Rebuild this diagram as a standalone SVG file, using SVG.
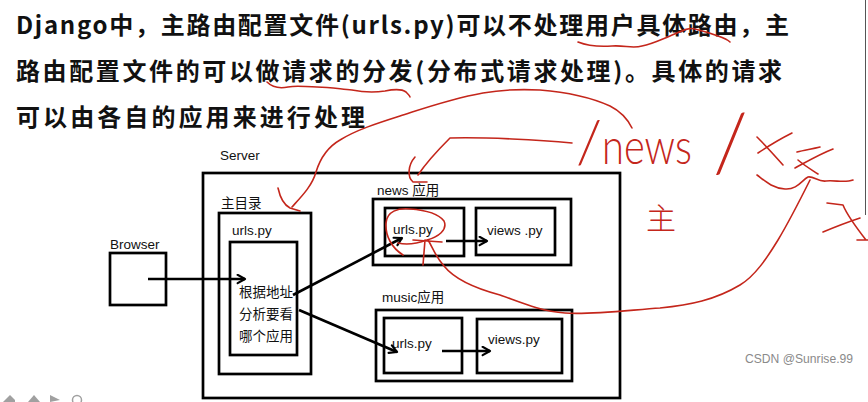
<svg xmlns="http://www.w3.org/2000/svg" width="868" height="402" viewBox="0 0 868 402">
<defs>
<style>
.box{fill:none;stroke:#000;stroke-width:2.7}
.lbl{font-family:"Liberation Sans","Noto Sans CJK SC",sans-serif;font-size:13.5px;fill:#111}
.head{font-family:"Noto Sans CJK SC","Noto Sans",sans-serif;font-size:24px;font-weight:bold;fill:#111}
.conn{fill:none;stroke:#000;stroke-width:2.6;marker-end:url(#arr)}
.red{fill:none;stroke:#c4261b;stroke-width:1.6;stroke-linecap:round;stroke-linejoin:round}
.rtext{font-family:"Lato","Liberation Sans",sans-serif;font-weight:300;fill:#c4261b}
</style>
<marker id="arr" viewBox="0 0 12 12" refX="10" refY="6" markerWidth="11" markerHeight="11" orient="auto" markerUnits="userSpaceOnUse">
<path d="M2,1.5 L10,6 L2,10.5" fill="none" stroke="#000" stroke-width="2.4" stroke-linecap="round" stroke-linejoin="round"/>
</marker>
</defs>
<rect width="868" height="402" fill="#fff"/>

<g id="title">
<text class="head" x="16" y="34" textLength="773" lengthAdjust="spacing">Django中，主路由配置文件(urls.py)可以不处理用户具体路由，主</text>
<text class="head" x="16" y="80" textLength="766" lengthAdjust="spacing">路由配置文件的可以做请求的分发(分布式请求处理)。具体的请求</text>
<text class="head" x="16" y="126" textLength="349" lengthAdjust="spacing">可以由各自的应用来进行处理</text>
</g>

<g id="server">
<text class="lbl" x="220" y="160">Server</text>
<rect class="box" x="203" y="173" width="417" height="225"/>
</g>

<g id="browser">
<text class="lbl" x="110" y="249">Browser</text>
<rect class="box" x="110" y="253" width="56" height="52"/>
</g>

<g id="main-dir">
<text class="lbl" x="221" y="208">主目录</text>
<rect class="box" x="219" y="213" width="92" height="161"/>
</g>

<g id="main-urls">
<text class="lbl" x="232" y="235">urls.py</text>
<rect class="box" x="230" y="242" width="67" height="113"/>
<text class="lbl" x="239" y="297">根据地址</text>
<text class="lbl" x="239" y="319">分析要看</text>
<text class="lbl" x="239" y="341">哪个应用</text>
</g>

<g id="news-app">
<text class="lbl" x="377" y="195">news 应用</text>
<rect class="box" x="373" y="199" width="198" height="66"/>
</g>
<g id="news-urls">
<rect class="box" x="385" y="208" width="79" height="48"/>
<text class="lbl" x="393" y="234">urls.py</text>
</g>
<g id="news-views">
<rect class="box" x="476" y="208" width="79" height="47"/>
<text class="lbl" x="487" y="235">views .py</text>
</g>

<g id="music-app">
<text class="lbl" x="382" y="302">music应用</text>
<rect class="box" x="376" y="310" width="196" height="71"/>
</g>
<g id="music-urls">
<rect class="box" x="384" y="318" width="78" height="55"/>
<text class="lbl" x="392" y="348">urls.py</text>
</g>
<g id="music-views">
<rect class="box" x="477" y="319" width="85" height="54"/>
<text class="lbl" x="488" y="344">views.py</text>
</g>

<g id="connectors">
<line class="conn" x1="148" y1="279" x2="245" y2="279"/>
<line class="conn" x1="293" y1="295" x2="402" y2="238"/>
<line class="conn" x1="299" y1="310" x2="397" y2="352"/>
<line class="conn" x1="446" y1="241" x2="487" y2="241"/>
<line class="conn" x1="442" y1="351" x2="490" y2="351"/>
</g>

<g id="annotations">
<path class="red" d="M578,42 C588,46 598,47 612,46 C625,45 632,49 642,46 C652,44 660,40 670,36 C680,32 688,27 695,29 C703,31 710,33 718,36 C724,38 728,40 730,42"/>
<path class="red" d="M267,82 C272,87 278,89 288,87 C298,85 305,87 317,87 C330,87 340,89 352,90 C362,92 372,93 385,91 C395,89 402,89 406,92 C408,94 410,96 410,97"/>
<path class="red" d="M292,207 C302,196 312,186 316,172 C320,159 326,148 340,140 C356,130 378,123 400,116 C425,108 450,99 483,93 C505,89 520,89 540,90 C565,92 590,97 610,106 C620,111 628,120 632,128"/>
<path class="red" d="M278,188 C280,197 284,205 290,208 L300,211"/>
<path class="red" d="M572,143 C540,140 485,137 450,138 C440,148 428,160 418,175"/>
<path class="red" d="M415,157 C408,165 407,177 413,182 L427,182"/>
<path class="red" d="M403,255 C392,248 385,236 386,223 C387,211 398,208 410,209 C424,210 438,213 444,221 C448,230 438,237 427,240 C416,244 406,245 398,243"/>
<path class="red" d="M413,240 L442,242 M425,240 L423,265"/>
<path class="red" d="M428,240 C432,246 435,256 444,266 C452,276 470,287 500,295 C520,302 540,311 565,313 C590,315 630,310 660,308 C690,305 715,300 740,285 C755,276 767,258 778,240 C790,220 800,200 810,180"/>
<path class="red" d="M757,137 C765,145 775,156 783,165 M758,153 C770,145 782,138 792,133"/>
<path class="red" d="M797,152 C805,150 812,149 820,147 M795,168 C808,161 820,154 833,149 M798,160 C805,166 812,170 818,174"/>
<path class="red" d="M757,175 C765,181 772,188 785,189 C797,190 802,180 808,177 C814,176 818,182 826,181 C835,180 845,183 853,180"/>
<path class="red" d="M827,203 L843,205 C845,210 852,222 866,240 M823,232 C835,227 848,222 860,218 M857,240 L868,240"/>
<text class="rtext" x="576" y="163" font-size="60">/</text>
<text class="rtext" x="602" y="163" font-size="40" textLength="90" lengthAdjust="spacingAndGlyphs" transform="translate(0,-40) scale(1,1.25)" style="transform-box:view-box">news</text>
<text class="rtext" x="713" y="172" font-size="80">/</text>
<text class="rtext" x="646" y="229" font-size="30" style="font-family:'Noto Sans CJK SC',sans-serif">主</text>
</g>

<g id="ui">
<line x1="865.5" y1="0" x2="865.5" y2="215" stroke="#555" stroke-width="1"/>
<text x="745" y="363" font-family="Liberation Sans, sans-serif" font-size="12.5" fill="#8a8a8a" textLength="108" lengthAdjust="spacingAndGlyphs">CSDN @Sunrise.99</text>
<path d="M3,402 L10,395 L15,400 L15,402 Z" fill="#a0a0a0"/>
<path d="M28,402 L34,395 L40,402 Z" fill="#a0a0a0"/>
<path d="M50,395 L60,400 L50,402 Z" fill="#a0a0a0"/>
<circle cx="77" cy="400" r="4.5" fill="none" stroke="#a0a0a0" stroke-width="1.5"/>
</g>
</svg>
